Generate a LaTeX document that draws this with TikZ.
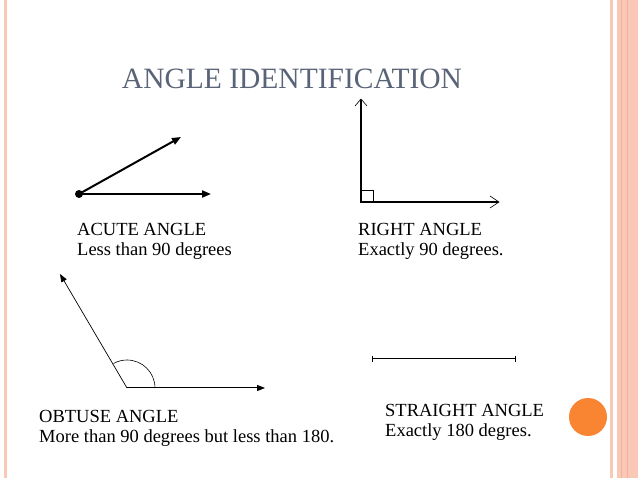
\documentclass[tikz,border=0pt]{standalone}
\usepackage{fontspec}
\setmainfont{Liberation Serif}
\usetikzlibrary{arrows.meta}
\definecolor{peach}{HTML}{FAC8B6}
\definecolor{peachd}{HTML}{F4B09A}
\definecolor{orng}{HTML}{F98432}
\definecolor{ttl}{HTML}{5A6478}
\begin{document}
\begin{tikzpicture}[x=1pt,y=-1pt,
  ray/.style={line width=2pt,-{Triangle[length=9pt,width=7pt]}},
  lbl/.style={anchor=base west,inner sep=0pt,font=\fontsize{18.5}{20}\selectfont,align=left}]
\useasboundingbox (0,0) rectangle (638,478);
\fill[white] (0,0) rectangle (638,478);
% borders
\fill[peach] (4,0) rectangle (7,478);
\fill[peach] (610,0) rectangle (613,478);
\fill[peach] (617,0) rectangle (638,478);
\draw[peachd,line width=1pt] (621,0) -- (621,478);
\draw[peachd,line width=1pt] (627,0) -- (627,478);
\fill[orng] (588,417) circle (19);
% title
\node[text=ttl,font=\fontsize{29.5}{32}\selectfont,inner sep=0pt,anchor=base] (title) at (292,89) {ANGLE IDENTIFICATION};
% acute
\coordinate (av) at (79,194);
\coordinate (a1) at (211,194);
\coordinate (a2) at (181,137);
\draw[ray] (av) -- (a1);
\draw[ray] (av) -- (a2);
\fill (av) circle (4);
\node[lbl] (acl) at (77,256) {ACUTE ANGLE\\Less than 90 degrees};
% right
\coordinate (rv) at (361,202);
\coordinate (r1) at (361,100);
\coordinate (r2) at (498,202);
\draw[line width=2pt,line join=miter] (r1) -- (rv) -- (r2);
\draw[line width=0.6pt] (355,106) -- (361,99) -- (367,106);
\draw[line width=0.6pt] (490,196) -- (499,202) -- (490,208);
\draw[line width=0.5pt] (361,190) rectangle (373,202);
\node[lbl] (rl) at (358,256) {RIGHT ANGLE\\Exactly 90 degrees.};
% obtuse
\coordinate (ov) at (127,388);
\coordinate (o1) at (265,388);
\coordinate (o2) at (60,274);
\draw[line width=1pt,-{Triangle[length=8pt,width=6pt]}] (ov) -- (o1);
\draw[line width=0.7pt,-{Triangle[length=8pt,width=6pt]}] (ov) -- (o2);
\draw[line width=0.6pt] (155,388) arc[start angle=0,end angle=-119,radius=28];
\node[lbl] (ol) at (39,443) {OBTUSE ANGLE\\More than 90 degrees but less than 180.};
% straight
\coordinate (s1) at (372,359);
\coordinate (s2) at (515,359);
\draw[line width=1pt] (s1) -- (s2);
\draw[line width=0.6pt] (372,356) -- (372,362) (515,356) -- (515,362);
\node[lbl] (sl) at (385,437) {STRAIGHT ANGLE\\Exactly 180 degres.};
\end{tikzpicture}
\end{document}
